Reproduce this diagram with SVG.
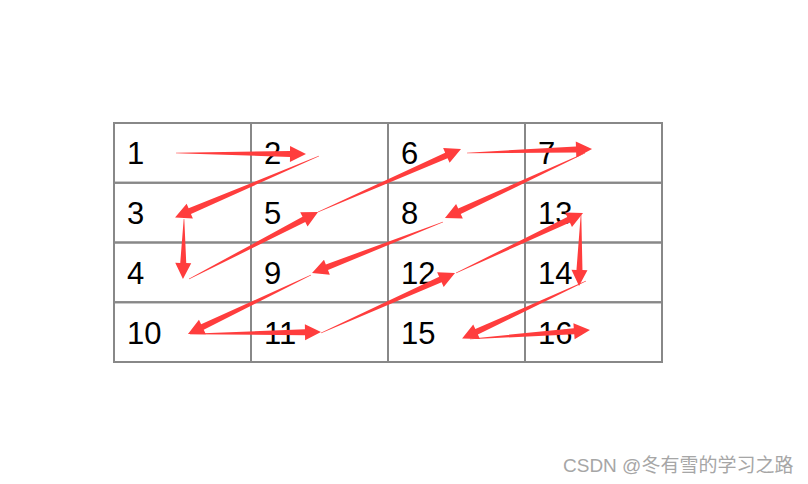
<svg xmlns="http://www.w3.org/2000/svg" width="808" height="484" viewBox="0 0 808 484">
<style>
.cell{fill:none;stroke:#888;stroke-width:2}
.num{font-family:"Liberation Sans",Arial,sans-serif;font-size:31px;fill:#000}
.arr{fill:#ff3d3d}
.wm{font-family:"Liberation Sans","Noto Sans CJK SC",sans-serif;font-size:19px;fill:#a6a6a6}
</style>
<rect width="808" height="484" fill="#fff"/>
<g id="c1"><rect class="cell" x="114" y="123" width="137" height="59.75"/><text class="num" x="127" y="164">1</text></g>
<g id="c2"><rect class="cell" x="251" y="123" width="137" height="59.75"/><text class="num" x="264" y="164">2</text></g>
<g id="c6"><rect class="cell" x="388" y="123" width="137" height="59.75"/><text class="num" x="401" y="164">6</text></g>
<g id="c7"><rect class="cell" x="525" y="123" width="137" height="59.75"/><text class="num" x="538" y="164">7</text></g>
<g id="c3"><rect class="cell" x="114" y="182.75" width="137" height="59.75"/><text class="num" x="127" y="224">3</text></g>
<g id="c5"><rect class="cell" x="251" y="182.75" width="137" height="59.75"/><text class="num" x="264" y="224">5</text></g>
<g id="c8"><rect class="cell" x="388" y="182.75" width="137" height="59.75"/><text class="num" x="401" y="224">8</text></g>
<g id="c13"><rect class="cell" x="525" y="182.75" width="137" height="59.75"/><text class="num" x="538" y="224">13</text></g>
<g id="c4"><rect class="cell" x="114" y="242.5" width="137" height="59.75"/><text class="num" x="127" y="284">4</text></g>
<g id="c9"><rect class="cell" x="251" y="242.5" width="137" height="59.75"/><text class="num" x="264" y="284">9</text></g>
<g id="c12"><rect class="cell" x="388" y="242.5" width="137" height="59.75"/><text class="num" x="401" y="284">12</text></g>
<g id="c14"><rect class="cell" x="525" y="242.5" width="137" height="59.75"/><text class="num" x="538" y="284">14</text></g>
<g id="c10"><rect class="cell" x="114" y="302.25" width="137" height="59.75"/><text class="num" x="127" y="344">10</text></g>
<g id="c11"><rect class="cell" x="251" y="302.25" width="137" height="59.75"/><text class="num" x="264" y="344">11</text></g>
<g id="c15"><rect class="cell" x="388" y="302.25" width="137" height="59.75"/><text class="num" x="401" y="344">15</text></g>
<g id="c16"><rect class="cell" x="525" y="302.25" width="137" height="59.75"/><text class="num" x="538" y="344">16</text></g>
<g id="connectors">
<polygon class="arr" transform="translate(176,153) rotate(0.44)" points="0,-0.3 114,-3 114,-8 130,0 114,8 114,3 0,0.3"/>
<polygon class="arr" transform="translate(319,156) rotate(156.9)" points="0,-0.3 140.5,-3 140.5,-8 156.5,0 140.5,8 140.5,3 0,0.3"/>
<polygon class="arr" transform="translate(184,219) rotate(91)" points="0,-0.3 44,-3 44,-8 60,0 44,8 44,3 0,0.3"/>
<polygon class="arr" transform="translate(189,279) rotate(-27.4)" points="0,-0.3 129.4,-3 129.4,-8 145.4,0 129.4,8 129.4,3 0,0.3"/>
<polygon class="arr" transform="translate(318,212) rotate(-23.8)" points="0,-0.3 140.3,-3 140.3,-8 156.3,0 140.3,8 140.3,3 0,0.3"/>
<polygon class="arr" transform="translate(467,153) rotate(-1.83)" points="0,-0.3 109.1,-3 109.1,-8 125.1,0 109.1,8 109.1,3 0,0.3"/>
<polygon class="arr" transform="translate(585,153) rotate(155.1)" points="0,-0.3 138.4,-3 138.4,-8 154.4,0 138.4,8 138.4,3 0,0.3"/>
<polygon class="arr" transform="translate(443,222) rotate(158.7)" points="0,-0.3 124.6,-3 124.6,-8 140.6,0 124.6,8 124.6,3 0,0.3"/>
<polygon class="arr" transform="translate(311,275) rotate(154.4)" points="0,-0.3 120.4,-3 120.4,-8 136.4,0 120.4,8 120.4,3 0,0.3"/>
<polygon class="arr" transform="translate(190,334) rotate(-0.87)" points="0,-0.3 115,-3 115,-8 131,0 115,8 115,3 0,0.3"/>
<polygon class="arr" transform="translate(321,333) rotate(-24.1)" points="0,-0.3 130.8,-3 130.8,-8 146.8,0 130.8,8 130.8,3 0,0.3"/>
<polygon class="arr" transform="translate(456,273) rotate(-25.3)" points="0,-0.3 124.5,-3 124.5,-8 140.5,0 124.5,8 124.5,3 0,0.3"/>
<polygon class="arr" transform="translate(581,215) rotate(91.6)" points="0,-0.3 55,-3 55,-8 71,0 55,8 55,3 0,0.3"/>
<polygon class="arr" transform="translate(586,281) rotate(155.1)" points="0,-0.3 120.6,-3 120.6,-8 136.6,0 120.6,8 120.6,3 0,0.3"/>
<polygon class="arr" transform="translate(470,339) rotate(-4.3)" points="0,-0.3 104.3,-3 104.3,-8 120.3,0 104.3,8 104.3,3 0,0.3"/>
</g>
<text class="wm" x="563" y="472">CSDN @冬有雪的学习之路</text>
</svg>
